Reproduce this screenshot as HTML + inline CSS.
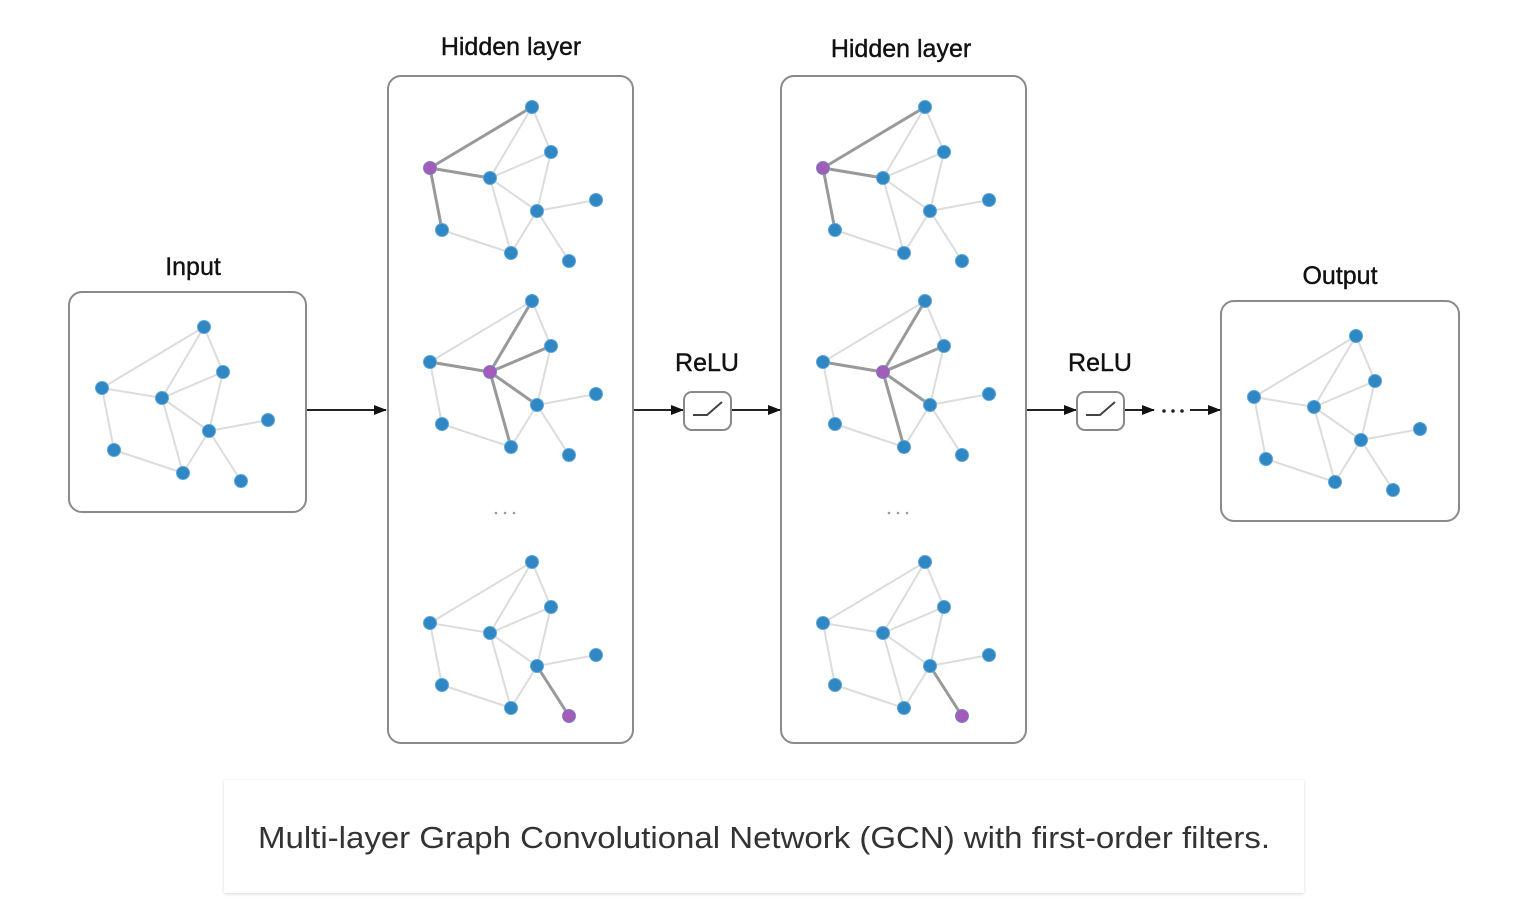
<!DOCTYPE html>
<html><head><meta charset="utf-8"><style>
html,body{margin:0;padding:0;background:#fff;}
svg{display:block;}
</style></head><body>
<svg width="1514" height="899" viewBox="0 0 1514 899" xmlns="http://www.w3.org/2000/svg">
<defs>
<g id="edges" stroke="#dcdcdc" stroke-width="2" fill="none">
<line x1="430" y1="168" x2="532" y2="107"/><line x1="430" y1="168" x2="490" y2="178"/><line x1="430" y1="168" x2="442" y2="230"/>
<line x1="532" y1="107" x2="490" y2="178"/><line x1="532" y1="107" x2="551" y2="152"/><line x1="490" y1="178" x2="551" y2="152"/>
<line x1="490" y1="178" x2="537" y2="211"/><line x1="490" y1="178" x2="511" y2="253"/><line x1="551" y1="152" x2="537" y2="211"/>
<line x1="537" y1="211" x2="596" y2="200"/><line x1="537" y1="211" x2="511" y2="253"/><line x1="537" y1="211" x2="569" y2="261"/>
<line x1="442" y1="230" x2="511" y2="253"/>
</g>
<g id="nodes" fill="#2f87c4" stroke="#5ea6d8" stroke-width="1">
<circle cx="532" cy="107" r="6.5"/><circle cx="551" cy="152" r="6.5"/><circle cx="430" cy="168" r="6.5"/><circle cx="490" cy="178" r="6.5"/>
<circle cx="537" cy="211" r="6.5"/><circle cx="596" cy="200" r="6.5"/><circle cx="442" cy="230" r="6.5"/><circle cx="511" cy="253" r="6.5"/><circle cx="569" cy="261" r="6.5"/>
</g>
<g id="h1" stroke="#999" stroke-width="3"><line x1="430" y1="168" x2="532" y2="107"/><line x1="430" y1="168" x2="490" y2="178"/><line x1="430" y1="168" x2="442" y2="230"/></g>
<g id="h2" stroke="#999" stroke-width="3"><line x1="490" y1="178" x2="532" y2="107"/><line x1="490" y1="178" x2="551" y2="152"/><line x1="490" y1="178" x2="430" y2="168"/><line x1="490" y1="178" x2="537" y2="211"/><line x1="490" y1="178" x2="511" y2="253"/></g>
<g id="h3" stroke="#999" stroke-width="3"><line x1="537" y1="211" x2="569" y2="261"/></g>
<marker id="ar" markerWidth="13" markerHeight="12" refX="12" refY="6" orient="auto" markerUnits="userSpaceOnUse"><path d="M0,1 L13,6 L0,11 z" fill="#111"/></marker>
<filter id="sh" x="-5%" y="-20%" width="110%" height="140%"><feDropShadow dx="0" dy="1" stdDeviation="1.5" flood-color="#000" flood-opacity="0.15"/></filter>
</defs>

<g fill="#fff" stroke="#8a8a8a" stroke-width="2">
<rect x="69" y="292" width="237" height="220" rx="13"/>
<rect x="388" y="76" width="245" height="667" rx="13"/>
<rect x="781" y="76" width="245" height="667" rx="13"/>
<rect x="1221" y="301" width="238" height="220" rx="13"/>
</g>

<g transform="translate(-328,220)"><use href="#edges"/><use href="#nodes"/></g>
<g transform="translate(824,229)"><use href="#edges"/><use href="#nodes"/></g>
<g id="layer">
<g><use href="#edges"/><use href="#h1"/><use href="#nodes"/><circle cx="430" cy="168" r="6.5" fill="#a15db8"/></g>
<g transform="translate(0,194)"><use href="#edges"/><use href="#h2"/><use href="#nodes"/><circle cx="490" cy="178" r="6.5" fill="#a15db8"/></g>
<g transform="translate(0,455)"><use href="#edges"/><use href="#h3"/><use href="#nodes"/><circle cx="569" cy="261" r="6.5" fill="#a15db8"/></g>
<g fill="#999"><circle cx="496" cy="513" r="1.3"/><circle cx="505" cy="513" r="1.3"/><circle cx="514" cy="513" r="1.3"/></g>
</g>
<use href="#layer" transform="translate(393,0)"/>

<g stroke="#222" stroke-width="2" marker-end="url(#ar)">
<line x1="307" y1="410" x2="386" y2="410"/>
<line x1="634" y1="410" x2="683" y2="410"/>
<line x1="732" y1="410" x2="780" y2="410"/>
<line x1="1027" y1="410" x2="1076" y2="410"/>
<line x1="1125" y1="410" x2="1154" y2="410"/>
<line x1="1190" y1="410" x2="1220" y2="410"/>
</g>
<g fill="#222"><circle cx="1164" cy="411" r="1.8"/><circle cx="1173" cy="411" r="1.8"/><circle cx="1182" cy="411" r="1.8"/></g>
<g fill="#fff" stroke="#888" stroke-width="2">
<rect x="684" y="392" width="47" height="38" rx="8"/>
<rect x="1077" y="392" width="47" height="38" rx="8"/>
</g>
<g stroke="#444" stroke-width="2" fill="none">
<polyline points="693,415 707,415 722,402"/>
<polyline points="1086,415 1100,415 1115,402"/>
</g>

<g font-family="Liberation Sans, sans-serif" font-size="25" fill="#111" text-anchor="middle" stroke="#111" stroke-width="0.4">
<text x="511" y="55">Hidden layer</text>
<text x="901" y="57">Hidden layer</text>
<text x="193" y="275">Input</text>
<text x="1340" y="284">Output</text>
<text x="707" y="371">ReLU</text>
<text x="1100" y="371">ReLU</text>
</g>

<rect x="224" y="780" width="1080" height="113" fill="#fff" filter="url(#sh)"/>
<text x="258" y="848" font-family="Liberation Sans, sans-serif" font-size="31" fill="#333" textLength="1012" lengthAdjust="spacingAndGlyphs">Multi-layer Graph Convolutional Network (GCN) with first-order filters.</text>
</svg>
</body></html>
